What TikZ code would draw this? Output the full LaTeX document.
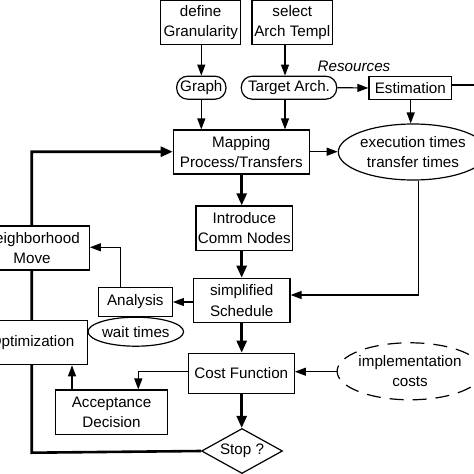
\documentclass[tikz,border=0pt]{standalone}
\usepackage{fontspec}
\setmainfont{Liberation Sans}
\usetikzlibrary{arrows.meta,shapes.geometric,backgrounds}
\begin{document}
\begin{tikzpicture}[x=1pt,y=-1pt,
  every node/.style={font=\fontsize{15.2}{20.5}\selectfont, align=center, inner sep=0pt},
  box/.style={draw, line width=1.2pt, fill=white, minimum width=#1},
  rbox/.style={draw, line width=1.2pt, fill=white, rounded corners=11pt, minimum height=23pt, minimum width=#1},
  ell/.style={draw, ellipse, line width=1.2pt, fill=white},
  ar/.style={line width=1.2pt, -{Triangle[length=11pt,width=8pt]}},
  tar/.style={line width=2.6pt, -{Triangle[length=12pt,width=10pt]}},
  tl/.style={line width=2.6pt}
]
\useasboundingbox (0,0) rectangle (474,474);
\clip (0,0) rectangle (474,474);
\node[box=80pt, minimum height=44pt] (def) at (200.7,22.6) {define\\Granularity};
\node[box=80.7pt, minimum height=44pt] (sel) at (292.3,22.6) {select\\Arch Templ};
\node[rbox=49.3pt] (graph) at (201.3,87.7) {Graph};
\node[rbox=95.4pt] (target) at (289,87.7) {Target Arch.};
\node[box=82.7pt, minimum height=22.6pt] (est) at (410.3,88) {Estimation};
\node[font=\fontsize{15.2}{20.5}\selectfont\itshape] (res) at (354,66) {Resources};
\node[box=136pt, minimum height=44pt] (map) at (241.3,152) {Mapping\\Process/Transfers};
\node[ell, minimum width=126pt, minimum height=56pt] (exec) at (413,152) {execution times\\transfer times};
\node[box=96.7pt, minimum height=44.7pt] (intro) at (244.3,228.3) {Introduce\\Comm Nodes};
\node[box=96.7pt, minimum height=44.4pt] (sched) at (241.7,300.5) {simplified\\Schedule};
\node[box=114.6pt, minimum height=44pt] (nbr) at (32,248) {Neighborhood\\Move};
\node[box=74pt, minimum height=29.4pt] (ana) at (135.3,302) {Analysis};
\node[ell, minimum width=87pt, minimum height=29pt] (wait) at (135.8,331.7) {wait times};
\node[box=110.6pt, minimum height=44pt] (opt) at (32,342.7) {Optimization};
\node[box=106pt, minimum height=40pt] (cost) at (241.3,373.3) {Cost Function};
\node[ell, dashed, dash pattern=on 14pt off 9pt, minimum width=130pt, minimum height=57pt] (impl) at (410,371.3) {implementation\\costs};
\node[box=112.4pt, minimum height=44.3pt] (acc) at (111.5,412.2) {Acceptance\\Decision};
\node[draw, diamond, line width=1.2pt, fill=white, minimum width=81pt, minimum height=45pt, aspect=1.8] (stop) at (242,451) {Stop ?};
\coordinate (edge) at (474,85);

\begin{scope}[on background layer]
\draw[tar] (stop.west) -- (31.7,452.7) -- (31.7,151.7) -- (map.west |- 0,151.7);
\end{scope}

\draw[ar] (def.south -| graph.north) -- (graph.north);
\draw[ar] (285,0 |- sel.south) -- (285,0 |- target.north);
\draw[ar] (graph.south) -- (map.north -| graph.south);
\draw[ar] (285,0 |- target.south) -- (285,0 |- map.north);
\draw[ar] (target.east) -- (est.west);
\draw[line width=1.2pt] (est.east |- edge) -- (edge);
\draw[ar] (410.7,0 |- est.south) -- (410.7,0 |- exec.north);
\draw[ar] (map.east |- 0,151.7) -- (exec.west |- 0,151.7);
\draw[tar] (241.7,0 |- map.south) -- (241.7,0 |- intro.north);
\draw[ar] (418.3,0 |- exec.south) -- (418.3,295) -- (sched.east |- 0,295);
\draw[tar] (241.7,0 |- intro.south) -- (241.7,0 |- sched.north);
\draw[ar] (sched.west |- ana.east) -- (ana.east);
\draw[ar] (120.7,0 |- ana.north) -- (120.7,247.3) -- (nbr.east |- 0,247.3);
\draw[tar] (sched.south) -- (sched.south |- cost.north);
\draw[ar] (impl.west |- 0,371.7) -- (cost.east |- 0,371.7);
\draw[ar] (cost.west |- 0,371.7) -- (138.3,371.7) -- (138.3,0 |- acc.north);
\draw[ar] (72,0 |- acc.north) -- (72,0 |- opt.south);
\draw[tar] (241.7,0 |- cost.south) -- (241.7,0 |- stop.north);
\end{tikzpicture}
\end{document}
